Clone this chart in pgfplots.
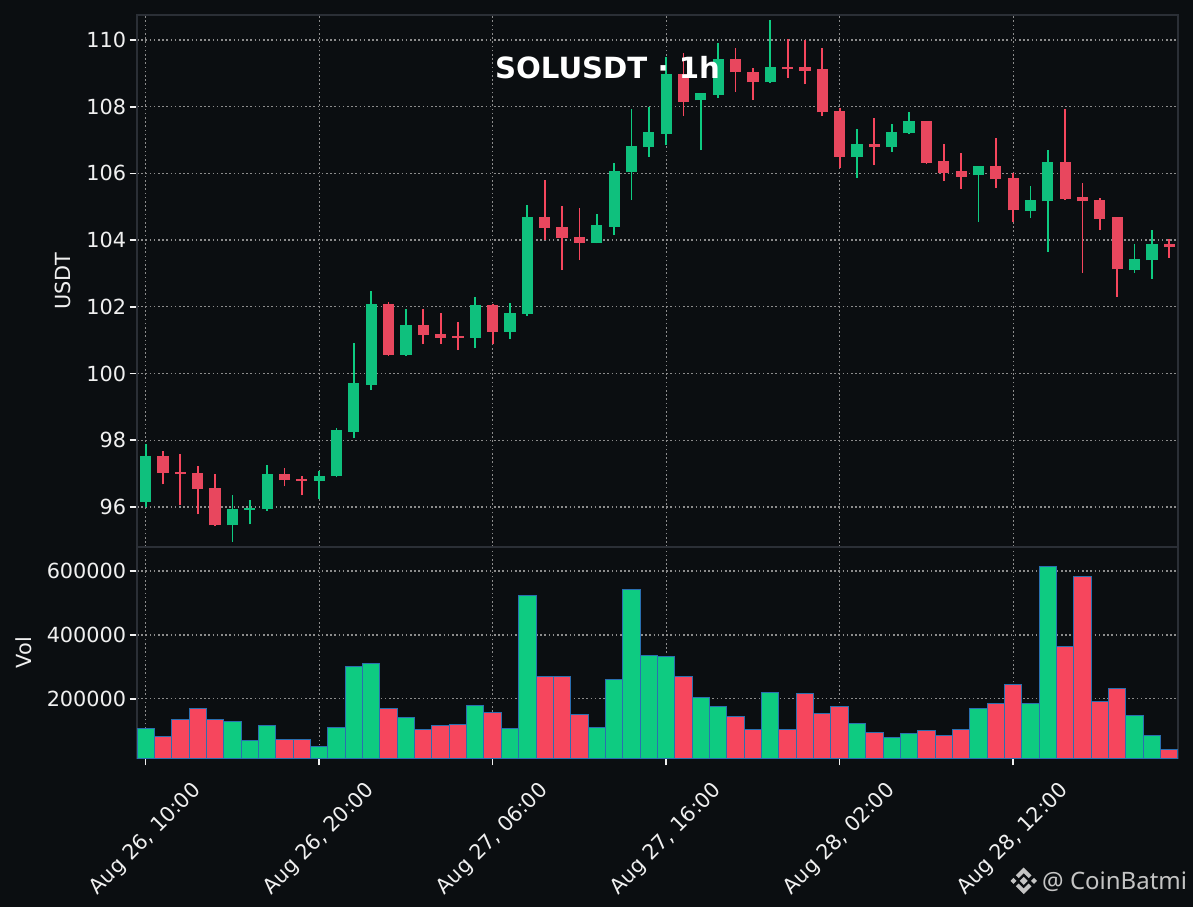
\documentclass[border=0pt]{standalone}
\usepackage{pgfplots}
\pgfplotsset{compat=1.18}
\usepackage{pgfplotstable}
\usepackage{fontspec}
\setmainfont{DejaVu Sans}
\newfontfamily\notosans{Noto Sans}
\definecolor{cbg}{HTML}{0B0E11}
\definecolor{cspine}{HTML}{2B2F36}
\definecolor{cgrid}{HTML}{8C8C8C}
\definecolor{ctext}{HTML}{F0F0F0}
\definecolor{cgreen}{HTML}{0ECB81}
\definecolor{cred}{HTML}{F6465D}
\definecolor{cgbody}{HTML}{0FC07D}
\definecolor{crbody}{HTML}{E8475E}
\definecolor{cedge}{HTML}{2A6FB0}
\definecolor{cwm}{HTML}{C4C4C4}

\pgfplotstableread{
i O H L C V
0 96.15 97.90 96.00 97.52 108000
5 95.45 96.35 94.95 95.95 130000
6 95.92 96.20 95.48 95.98 69000
7 95.93 97.25 95.88 97.00 115000
10 96.78 97.08 96.25 96.94 51000
11 96.93 98.36 96.89 98.30 111000
12 98.25 100.91 98.06 99.73 300000
13 99.66 102.47 99.50 102.10 311000
15 100.56 101.93 100.52 101.47 140000
19 101.07 102.29 100.76 102.07 180000
21 101.25 102.11 101.03 101.83 108000
22 101.80 105.04 101.73 104.68 524000
26 103.92 104.78 103.90 104.44 111000
27 104.40 106.30 104.15 106.08 261000
28 106.05 107.93 105.20 106.81 543000
29 106.78 107.98 106.50 107.23 336000
30 107.19 109.50 106.85 108.97 333000
32 108.19 108.42 106.70 108.40 205000
33 108.36 109.90 108.26 109.42 177000
36 108.73 110.60 108.71 109.20 221000
41 106.50 107.33 105.87 106.87 124000
43 106.78 107.47 106.65 107.23 80000
44 107.20 107.83 107.18 107.56 90000
48 105.94 106.23 104.55 106.21 168000
51 104.86 105.62 104.67 105.19 186000
52 105.16 106.70 103.65 106.33 615000
57 103.09 103.88 103.02 103.42 149000
58 103.39 104.30 102.84 103.87 86000
}\greendata

\pgfplotstableread{
i O H L C V
1 97.52 97.67 96.68 97.02 83000
2 97.06 97.58 96.05 97.00 136000
3 97.03 97.22 95.78 96.54 171000
4 96.58 96.98 95.42 95.45 136000
8 97.00 97.16 96.62 96.80 71000
9 96.85 96.92 96.35 96.78 74000
14 102.10 102.14 100.53 100.56 168000
16 101.47 101.93 100.88 101.16 105000
17 101.20 101.81 100.88 101.07 115000
18 101.12 101.54 100.70 101.08 121000
20 102.07 102.09 100.88 101.25 158000
23 104.68 105.80 104.00 104.37 271000
24 104.40 105.02 103.10 104.07 271000
25 104.10 104.95 103.40 103.92 150000
31 108.97 109.62 107.72 108.15 271000
34 109.42 109.76 108.45 109.03 146000
35 109.05 109.15 108.20 108.73 105000
37 109.20 110.02 108.87 109.12 105000
38 109.18 110.00 108.68 109.08 218000
39 109.12 109.76 107.73 107.83 155000
40 107.86 107.97 106.17 106.50 177000
42 106.87 107.66 106.25 106.78 93000
45 107.56 107.58 106.28 106.32 102000
46 106.36 106.88 105.78 106.02 86000
47 106.06 106.60 105.54 105.90 105000
49 106.21 107.06 105.57 105.82 186000
50 105.85 106.00 104.55 104.89 246000
53 106.33 107.93 105.20 105.22 365000
54 105.28 105.71 103.02 105.16 583000
55 105.19 105.25 104.30 104.64 190000
56 104.68 104.70 102.30 103.12 233000
59 103.87 104.03 103.47 103.78 41000
}\reddata

\pgfplotsset{
  cstyle/.style={
    scale only axis, width=1041pt, xmin=-0.5, xmax=59.5,
    axis background/.style={fill=cbg},
    axis line style={draw=cspine, line width=1.6pt},
    grid=major,
    major grid style={draw=cgrid, line width=1.3pt, dash pattern=on 1.6pt off 2.6pt},
    tick align=outside, major tick length=7.3pt,
    tick style={draw=ctext, line width=1.6pt},
    tick pos=left,
    ticklabel style={font=\fontsize{20.8}{25}\selectfont, text=ctext},
    label style={font=\fontsize{20.8}{25}\selectfont, text=ctext},
    /pgf/number format/assume math mode=true,
    xtick={0,10,20,30,40,50},
  },
  wick/.style={draw=none, mark=none, error bars/.cd, y dir=plus, y explicit, error mark=none,
    error bar style={draw=#1, line width=1.8pt}},
  body/.style={draw=none, mark=none, error bars/.cd, y dir=plus, y explicit, error mark=none,
    error bar style={draw=#1, line width=11.2pt}},
}

\begin{document}
\begin{tikzpicture}
\fill[cbg] (0pt,0pt) rectangle (1193pt,907pt);

\begin{axis}[cstyle, at={(137pt,360pt)}, anchor=south west, height=532pt,
  ymin=94.8, ymax=110.75, ytick={96,98,100,102,104,106,108,110},
  xticklabels={}, xtick style={draw=none},
  ylabel={USDT}, ylabel style={at={(axis description cs:-0.0711,0.5)}, anchor=center}]
\addplot[wick=cgreen] table[x=i, y=L, y error expr=\thisrow{H}-\thisrow{L}] {\greendata};
\addplot[wick=cred] table[x=i, y=L, y error expr=\thisrow{H}-\thisrow{L}] {\reddata};
\addplot[body=cgbody] table[x=i, y=O, y error expr=\thisrow{C}-\thisrow{O}] {\greendata};
\addplot[body=crbody] table[x=i, y=C, y error expr=\thisrow{O}-\thisrow{C}] {\reddata};
\end{axis}

\begin{axis}[cstyle, at={(137pt,149pt)}, anchor=south west, height=211pt,
  ymin=14600, ymax=675000, ytick={200000,400000,600000},
  scaled y ticks=false,
  yticklabel style={/pgf/number format/fixed, /pgf/number format/1000 sep={}},
  xticklabels={{Aug 26, 10:00},{Aug 26, 20:00},{Aug 27, 06:00},{Aug 27, 16:00},{Aug 28, 02:00},{Aug 28, 12:00}},
  xticklabel style={yshift=-74pt, rotate=45, anchor=center},
  ylabel={Vol}, ylabel style={at={(axis description cs:-0.1085,0.5)}, anchor=center}]
\addplot[ybar, bar width=1, bar shift=0pt, fill=cgreen, draw=cedge, line width=1pt] table[x=i, y=V] {\greendata};
\addplot[ybar, bar width=1, bar shift=0pt, fill=cred, draw=cedge, line width=1pt] table[x=i, y=V] {\reddata};
\end{axis}

\node[font=\bfseries\fontsize{29.2}{35}\selectfont, text=white, anchor=base] at (607.5pt,828.7pt) {SOLUSDT · 1h};

% watermark logo
\fill[cwm] (1013.5pt,29.2pt) -- (1016.5pt,26.2pt) -- (1013.5pt,23.2pt) -- (1010.5pt,26.2pt) -- cycle;
\fill[cwm] (1034pt,29.2pt) -- (1037pt,26.2pt) -- (1034pt,23.2pt) -- (1031pt,26.2pt) -- cycle;
\fill[cwm] (1023.7pt,30.2pt) -- (1027.7pt,26.2pt) -- (1023.7pt,22.2pt) -- (1019.7pt,26.2pt) -- cycle;
\fill[cwm] (1023.7pt,39.5pt) -- (1031.5pt,31.7pt) -- (1028.7pt,28.9pt) -- (1023.7pt,33.9pt) -- (1018.7pt,28.9pt) -- (1015.9pt,31.7pt) -- cycle;
\fill[cwm] (1023.7pt,12.9pt) -- (1031.5pt,20.7pt) -- (1028.7pt,23.5pt) -- (1023.7pt,18.5pt) -- (1018.7pt,23.5pt) -- (1015.9pt,20.7pt) -- cycle;
\node[font=\notosans\fontsize{24}{29}\selectfont, text=cwm, anchor=base west, inner sep=0pt] at (1042pt,18pt) {@ CoinBatmi};
\end{tikzpicture}
\end{document}
